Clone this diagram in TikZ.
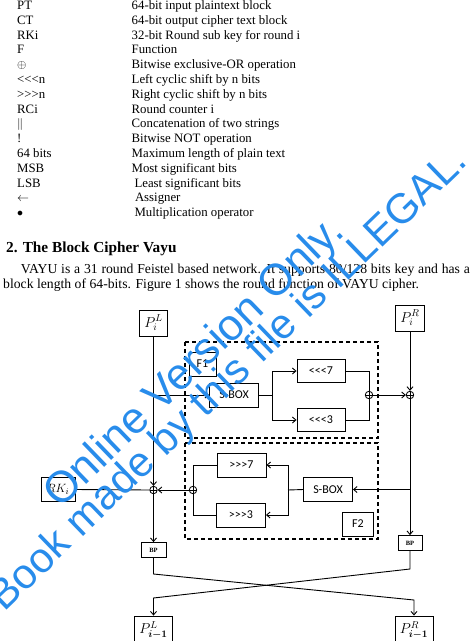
\documentclass[tikz,border=0pt]{standalone}
\usepackage{amsmath}
\usepackage{fontspec}
\setmainfont{Liberation Serif}
\newfontfamily\labelfont{Carlito}
\newfontfamily\markfont{Liberation Sans}
\usetikzlibrary{positioning, arrows.meta}
\definecolor{markblue}{RGB}{40,140,235}

\tikzset{
  tabtext/.style={anchor=base west, inner sep=0pt, font=\fontsize{12.8}{14.8}\selectfont},
  blk/.style={draw, line width=0.9pt, inner sep=0pt, minimum width=49pt, minimum height=24pt,
    font=\labelfont\fontsize{12}{12}\selectfont},
  pbox/.style={draw, line width=0.9pt, inner sep=0pt, minimum height=26pt,
    font=\fontsize{14}{14}\selectfont},
  bpbox/.style={draw, line width=0.8pt, inner sep=0pt, minimum width=25pt, minimum height=15pt,
    font=\fontsize{6.5}{6.5}\selectfont\bfseries},
  fbox/.style={draw, line width=1.1pt, dash pattern=on 4pt off 3pt},
  xor/.style={circle, draw, line width=0.8pt, inner sep=0pt, minimum size=7.5pt,
    path picture={\draw[line width=0.8pt] (path picture bounding box.north) -- (path picture bounding box.south)
      (path picture bounding box.west) -- (path picture bounding box.east);}},
  wire/.style={line width=0.9pt},
  wmark/.style={anchor=base west, inner sep=0pt, rotate=44, text=markblue,
    font=\markfont\fontsize{42}{42}\selectfont},
  >={Straight Barb[length=3.5pt,width=6pt]}
}

\begin{document}
\begin{tikzpicture}[x=1pt,y=-1pt]
\useasboundingbox (0,0) rectangle (474,641);

% notation table
\foreach \sym/\desc/\dx [count=\k from 0] in {PT/64-bit input plaintext block/0,
    CT/64-bit output cipher text block/0, RKi/32-bit Round sub key for round i/0,
    F/Function/0, $\oplus$/Bitwise exclusive-OR operation/0,
    <{}<{}<n/Left cyclic shift by n bits/0, >{}>{}>n/Right cyclic shift by n bits/0,
    RCi/Round counter i/0, $\|$/Concatenation of two strings/0,
    !/Bitwise NOT operation/0, 64 bits/Maximum length of plain text/0,
    MSB/Most significant bits/0, LSB/Least significant bits/2.8,
    $\leftarrow$/Assigner/3.3, $\bullet$/Multiplication operator/2.8}
  {\node[tabtext] (sym\k) at (17,9.5+14.8*\k) {\sym};
   \node[tabtext] (desc\k) at (131.5+\dx,9.5+14.8*\k) {\desc};}

% section text
\node[anchor=base west, inner sep=0pt, font=\fontsize{15.3}{16}\selectfont\bfseries] (sechead) at (6,252)
  {2. The Block Cipher Vayu};
\node[anchor=base west, inner sep=0pt, font=\fontsize{13.7}{15}\selectfont] (para1) at (20.7,273.5)
  {\makebox[449pt][s]{VAYU is a 31 round Feistel based network. It supports 80/128 bits key and has a}};
\node[anchor=base west, inner sep=0pt, font=\fontsize{13.7}{15}\selectfont] (para2) at (3,288.5)
  {block length of 64-bits. Figure 1 shows the round function of VAYU cipher.};

% round function
\node[pbox, minimum width=28pt] (PiL) at (153.5,323) {$P_i^L$};
\node[pbox, minimum width=29pt] (PiR) at (410,318) {$P_i^R$};
\draw[fbox] (185,342) rectangle (378,438);
\draw[fbox] (185,443) rectangle (378,539);
\node[blk, minimum width=27pt] (F1) at (202.5,364) {F1};
\node[blk] (sbox1) at (234,395) {S-BOX};
\node[blk, minimum width=48pt, minimum height=23pt] (rotl7) at (321,371) {<{}<{}<7};
\node[blk, minimum width=48pt, minimum height=23pt] (rotl3) at (321,420) {<{}<{}<3};
\node[xor] (xor1) at (369,395) {};
\node[xor] (xorR) at (410,395) {};
\node[blk] (sbox2) at (328,489.5) {S-BOX};
\node[blk] (rotr7) at (241.5,465) {>{}>{}>7};
\node[blk] (rotr3) at (241,515) {>{}>{}>3};
\node[xor] (xor2) at (193,490) {};
\node[xor] (xorL) at (153.5,490) {};
\node[blk, minimum width=34pt, font=\fontsize{12.5}{12.5}\selectfont] (RK) at (58,489.5) {$RK_i$};
\node[blk, minimum width=31pt] (F2) at (358,524) {F2};
\node[bpbox] (bpL) at (153.5,550) {BP};
\node[bpbox, minimum width=24pt] (bpR) at (410,543) {BP};
\node[pbox, minimum width=38pt, minimum height=28pt] (PoL) at (153.5,630) {$P^L_{\boldsymbol{i-1}}$};
\node[pbox, minimum width=38pt, minimum height=28pt] (PoR) at (414,630) {$P^R_{\boldsymbol{i-1}}$};
\coordinate (split1) at (272,395);
\coordinate (split2) at (288,490);
\coordinate (kinkA) at (153.5,574);
\coordinate (kinkB) at (414,600);
\coordinate (kinkC) at (410,569);
\coordinate (kinkD) at (153.5,598);

\draw[wire,->] (PiL |- sbox1.west) -- (sbox1.west);
\draw[wire] (sbox1.east) -- (split1);
\draw[wire,->] (split1) |- (rotl7.west);
\draw[wire,->] (split1) |- (rotl3.west);
\draw[wire] (rotl7.east) -| (xor1.north);
\draw[wire] (rotl3.east) -| (xor1.south);
\draw[wire,->] (xor1.east) -- (xorR.west);
\draw[wire,->] (PiR.south) -- (xorR.north);
\draw[wire,->] (xorR.south) -- (bpR.north);
\draw[wire,->] (xorR |- sbox2.east) -- (sbox2.east);
\draw[wire] (sbox2.west) -- (split2);
\draw[wire,->] (split2) |- (rotr7.east);
\draw[wire,->] (split2) |- (rotr3.east);
\draw[wire] (rotr7.west) -| (xor2.north);
\draw[wire] (rotr3.west) -| (xor2.south);
\draw[wire,->] (xor2.west) -- (xorL.east);
\draw[wire] (RK.east) -- (xorL.west);
\draw[wire,->] (PiL.south) -- (xorL.north);
\draw[wire,->] (xorL.south) -- (bpL.north);
\draw[wire,->] (bpL.south) -- (kinkA) -- (kinkB) -- (PoR.north);
\draw[wire,->] (bpR.south) -- (kinkC) -- (kinkD) -- (PoL.north);

% watermark
\node[wmark, font=\markfont\fontsize{44}{44}\selectfont] (mark1) at (60,510) {Online Version Only.};
\node[wmark] (mark2) at (4,613) {Book made by this file is ILLEGAL.};
\end{tikzpicture}
\end{document}
